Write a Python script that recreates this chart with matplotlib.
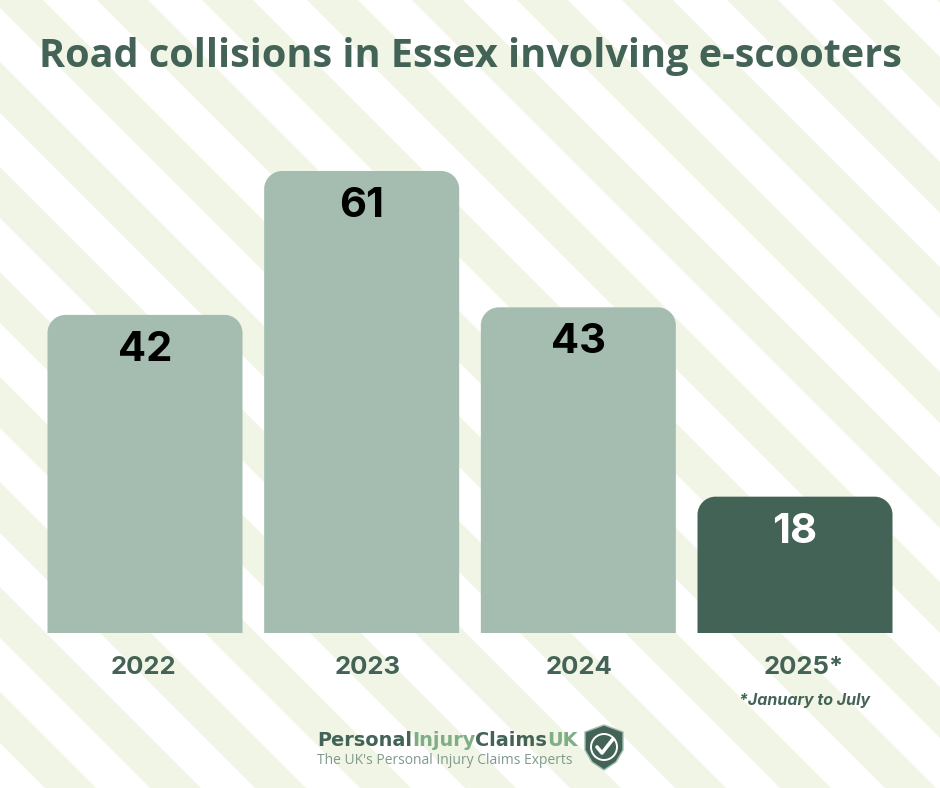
import matplotlib
matplotlib.use("Agg")
import matplotlib.pyplot as plt
from matplotlib.patches import PathPatch, Polygon, Circle
from matplotlib.path import Path

W, H = 940, 788
GREEN = "#426355"
SAGE = "#A5BDB0"
CREAM = "#F1F5E6"
MID = "#7FAE86"

years = ["2022", "2023", "2024", "2025*"]
collisions = [42, 61, 43, 18]
bar_colors = [SAGE, SAGE, SAGE, GREEN]
label_colors = ["black", "black", "black", "white"]
title = "Road collisions in Essex involving e-scooters"
footnote = "*January to July"
logo_words = [("Personal", GREEN), ("Injury", MID), ("Claims", GREEN), ("UK", MID)]
logo_tagline = "The UK's Personal Injury Claims Experts"

fig = plt.figure(figsize=(W / 100, H / 100), dpi=100, facecolor="white")

# Page layer in pixel units, y pointing down
bg = fig.add_axes([0, 0, 1, 1])
bg.set_xlim(0, W)
bg.set_ylim(H, 0)
bg.axis("off")

# Diagonal stripes running from upper left to lower right
period, band = 105, 51
offset = -43 - 105 * 10
while offset < H:
    bg.add_patch(Polygon([(0, offset), (0, offset + band),
                          (W, offset + band + W), (W, offset + W)],
                         closed=True, fc=CREAM, ec="none"))
    offset += period

# Bar layer: the value axis is scaled so 61 sits 462 px above the baseline
baseline_px, top_px = 633, 171
ax = fig.add_axes([0, 1 - baseline_px / H, 1, (baseline_px - top_px) / H])
ax.patch.set_alpha(0)
step = 216.67
ax.set_xlim(-145 / step, (W - 145) / step)
ax.set_ylim(0, max(collisions))
ax.axis("off")

width = 195 / step
rx = 18 / step
ry = 18 * max(collisions) / (baseline_px - top_px)


def rounded_top_bar(x, h):
    left, right = x - width / 2, x + width / 2
    k = 0.45
    verts = [(left, 0), (left, h - ry),
             (left, h - ry * k), (left + rx * k, h), (left + rx, h),
             (right - rx, h),
             (right - rx * k, h), (right, h - ry * k), (right, h - ry),
             (right, 0), (left, 0)]
    codes = [Path.MOVETO, Path.LINETO, Path.CURVE4, Path.CURVE4, Path.CURVE4,
             Path.LINETO, Path.CURVE4, Path.CURVE4, Path.CURVE4,
             Path.LINETO, Path.CLOSEPOLY]
    return Path(verts, codes)


for i, (value, color, text_color) in enumerate(zip(collisions, bar_colors, label_colors)):
    ax.add_patch(PathPatch(rounded_top_bar(i, value), fc=color, ec="none"))
    ax.annotate(str(value), (i, value), xytext=(0, -35), textcoords="offset pixels",
                ha="center", va="center", fontsize=30, fontweight="bold",
                family="Inter", color=text_color)

# Year labels sit slightly off the bar centres
year_x = [143.5, 367.5, 579, 804]
for x, year in zip(year_x, years):
    bg.text(x, 667, year, ha="center", va="center", fontsize=18.5, fontweight="bold",
            family="Inter", color=GREEN)
bg.text(805, 701, footnote, ha="center", va="center", fontsize=11.5, fontweight="bold",
        fontstyle="italic", family="Inter", color=GREEN)

bg.text(470, 56, title, ha="center", va="center", fontsize=28.5, fontweight="bold",
        family="Open Sans", color=GREEN)

# Company mark: wordmark, tagline and shield
renderer = fig.canvas.get_renderer()
cursor = 317
for word, color in logo_words:
    t = bg.text(cursor, 740, word, ha="left", va="center", fontsize=13.9, fontweight="bold",
                family="DejaVu Sans", color=color)
    bbox = t.get_window_extent(renderer)
    cursor += bbox.width
bg.text(317, 760, logo_tagline, ha="left", va="center", fontsize=10, family="Open Sans",
        color="#7F9A8C")

bg.add_patch(Polygon([(604, 725), (623, 732), (623, 750), (616, 762), (604, 770),
                      (592, 762), (585, 750), (585, 732)],
                     closed=True, fc=GREEN, ec="#A5BDB0", lw=1))
bg.add_patch(Circle((604, 747), 13, fc="none", ec="white", lw=1.4))
bg.plot([597, 602, 613], [747, 753, 739], color="white", lw=2.6, solid_capstyle="round")

fig.savefig("out.png", dpi=100, facecolor="white")
